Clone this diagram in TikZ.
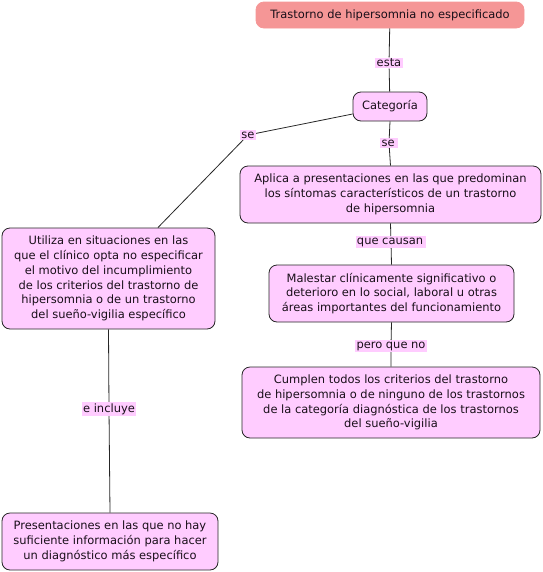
\documentclass[tikz,border=0pt]{standalone}
\usepackage{fontspec}
\setmainfont{DejaVu Sans}
\definecolor{boxpink}{RGB}{255,204,255}
\definecolor{toprose}{RGB}{245,150,150}
\definecolor{txt}{RGB}{25,15,25}
\begin{document}
\begin{tikzpicture}[x=0.75pt,y=-0.75pt,
  concept/.style={draw=black!85, fill=boxpink, rounded corners=6pt, align=center,
    inner sep=0pt, font=\fontsize{8.6}{11.1}\selectfont, text=txt, line width=0.6pt},
  lbl/.style={fill=boxpink, inner sep=1pt, font=\fontsize{8.6}{10}\selectfont, text=txt},
  link/.style={draw=black!85, line width=0.6pt}]
\useasboundingbox (0,0) rectangle (543,572);
\node[concept, fill=toprose, draw=toprose, minimum width=268*0.75pt, minimum height=26*0.75pt] (top) at (390,15) {Trastorno de hipersomnia no especificado};
\node[concept, minimum width=74*0.75pt, minimum height=29*0.75pt] (cat) at (390,106.5) {Categoría};
\node[concept, minimum width=301*0.75pt, minimum height=57*0.75pt] (apl) at (390.5,194.5) {Aplica a presentaciones en las que predominan\\los síntomas característicos de un trastorno\\de hipersomnia};
\node[concept, minimum width=245*0.75pt, minimum height=57*0.75pt] (mal) at (391.5,293.5) {Malestar clínicamente significativo o\\deterioro en lo social, laboral u otras\\áreas importantes del funcionamiento};
\node[concept, minimum width=298*0.75pt, minimum height=71*0.75pt] (cum) at (391,402.5) {Cumplen todos los criterios del trastorno\\de hipersomnia o de ninguno de los trastornos\\de la categoría diagnóstica de los trastornos\\del sueño-vigilia};
\node[concept, minimum width=213*0.75pt, minimum height=101*0.75pt] (uti) at (108.5,278.5) {Utiliza en situaciones en las\\que el clínico opta no especificar\\el motivo del incumplimiento\\de los criterios del trastorno de\\hipersomnia o de un trastorno\\del sueño-vigilia específico};
\node[concept, minimum width=216*0.75pt, minimum height=57*0.75pt] (pre) at (110,541.5) {Presentaciones en las que no hay\\suficiente información para hacer\\un diagnóstico más específico};
\node[lbl] (l1) at (389,63) {esta};
\node[lbl] (l2) at (248,135) {se};
\node[lbl] (l3) at (389,143) {se\,};
\node[lbl] (l4) at (391,242) {que causan\,};
\node[lbl] (l5) at (391,346) {pero que no};
\node[lbl] (l6) at (109,409) {e incluye};
\draw[link] (top) -- (l1) -- (cat);
\draw[link] (cat) -- (l2) -- (uti);
\draw[link] (cat.south) -- (l3) -- (apl.north);
\draw[link] (apl.south) -- (l4) -- (mal.north);
\draw[link] (mal.south) -- (l5) -- (cum.north);
\draw[link] (uti.south) -- (l6) -- (pre.north);
\end{tikzpicture}
\end{document}
